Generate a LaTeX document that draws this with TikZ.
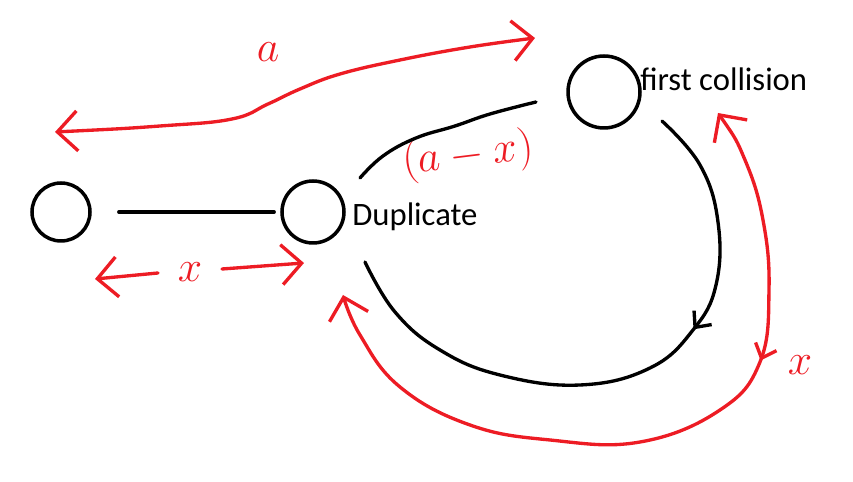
\documentclass[tikz,border=0pt]{standalone}
\usepackage{fontspec}
\setmainfont{Carlito}
\usetikzlibrary{arrows.meta,decorations.markings}
\definecolor{pred}{HTML}{ED1C24}
\begin{document}
\begin{tikzpicture}[x=0.02cm,y=-0.02cm,
  ball/.style={circle,draw,line width=2pt,inner sep=0pt},
  hand/.style={line width=1.9pt,line cap=round,line join=round},
  redhand/.style={hand,draw=pred},
  lab/.style={text=pred,font=\fontsize{28}{28}\selectfont,inner sep=0pt},
  txt/.style={font=\fontsize{18.6}{20}\selectfont,inner sep=0pt,anchor=west},
  >={Straight Barb[length=4mm,width=8mm]},
  midtip/.style={postaction={decorate},decoration={markings,
    mark=at position #1 with {\arrow{Straight Barb[length=2.5mm,width=4.5mm]}}}}]
\useasboundingbox (0,0) rectangle (853,482);
% nodes
\node[ball,minimum size=1.16cm] (n1) at (61,212) {};
\node[ball,minimum size=1.24cm] (dup) at (313,212) {};
\node[ball,minimum size=1.44cm] (fc) at (604,92) {};
\node[txt] (tdup) at (352,217) {Duplicate};
\node[txt] (tfc) at (640,79) {first collision};
% link
\draw[hand,shorten <=0.54cm,shorten >=0.12cm] (n1) -- (dup);
% labels
\node[lab] (la) at (268,52) {$a$};
\node[lab] (lx) at (190,272) {$x$};
\node[lab,rotate=7,font=\fontsize{26}{26}\selectfont] (lax) at (468,156) {$(a-x)$};
\node[lab] (lx2) at (800,365) {$x$};
% coordinates
\coordinate (aL) at (55,132);
\coordinate (aR) at (535,38);
\coordinate (xL) at (95,279);
\coordinate (xLe) at (158,273);
\coordinate (xRs) at (222,269);
\coordinate (xR) at (304,263);
\coordinate (bTs) at (360,178);
\coordinate (bTe) at (536,102);
\coordinate (bBs) at (662,121);
\coordinate (bBe) at (365,262);
\coordinate (rS) at (718,113);
\coordinate (rE) at (343,295);
% red a arrow
\draw[redhand,<->] plot[smooth,tension=0.7] coordinates {(aL) (160,126) (232,119) (268,104) (300,89) (340,74) (400,60) (470,47) (aR)};
% x arrows
\draw[redhand,->] (xLe) -- (xL);
\draw[redhand,->] (xRs) -- (xR);
% black curves
\draw[hand] plot[smooth,tension=0.7] coordinates {(bTs) (383,156) (416,138) (455,126) (490,114) (bTe)};
\draw[hand,midtip=0.37] plot[smooth,tension=0.7] coordinates {(bBs) (700,165) (718,222) (716,285) (693,330) (650,368) (580,385) (500,375) (440,350) (395,312) (bBe)};
% red big curve
\draw[redhand,<->,midtip=0.335] plot[smooth,tension=0.7] coordinates {(rS) (745,160) (763,220) (769,290) (760,362) (720,410) (640,442) (550,440) (470,425) (400,387) (360,335) (rE)};
\end{tikzpicture}
\end{document}
